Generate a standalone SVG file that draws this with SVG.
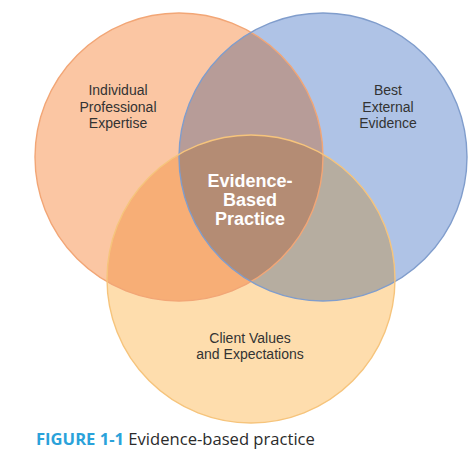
<svg xmlns="http://www.w3.org/2000/svg" width="474" height="470" viewBox="0 0 474 470">
<style>
.lbl{font-family:"Liberation Sans",Arial,sans-serif;font-size:14px;fill:#333333;text-anchor:middle}
.ctr{font-family:"Liberation Sans",Arial,sans-serif;font-size:18px;font-weight:bold;fill:#ffffff;text-anchor:middle}
.cap{font-family:"Open Sans",sans-serif;font-size:16.6px;fill:#2b2b2b}
.capb{fill:#2aa2da;font-weight:bold}
.ring{fill:none;stroke-width:1.4}
</style>
<defs>
<clipPath id="cL"><circle cx="179" cy="157" r="144"/></clipPath>
<clipPath id="cR"><circle cx="323" cy="157" r="144"/></clipPath>
</defs>
<rect width="474" height="470" fill="#ffffff"/>
<g id="fills">
<circle cx="179" cy="157" r="144" fill="#fbc6a3"/>
<circle cx="323" cy="157" r="144" fill="#afc3e6"/>
<circle cx="251" cy="279" r="144" fill="#feddad"/>
</g>
<g id="overlaps">
<circle cx="323" cy="157" r="144" fill="#b79c98" clip-path="url(#cL)"/>
<circle cx="251" cy="279" r="144" fill="#f7ae76" clip-path="url(#cL)"/>
<circle cx="251" cy="279" r="144" fill="#b6ada0" clip-path="url(#cR)"/>
<g clip-path="url(#cR)"><circle cx="251" cy="279" r="144" fill="#b48c74" clip-path="url(#cL)"/></g>
</g>
<g id="expertise">
<circle class="ring" cx="179" cy="157" r="144" stroke="#f2a676"/>
<text class="lbl" x="118" y="95">Individual</text>
<text class="lbl" x="118" y="112">Professional</text>
<text class="lbl" x="118" y="128">Expertise</text>
</g>
<g id="external">
<circle class="ring" cx="323" cy="157" r="144" stroke="#809dcc"/>
<text class="lbl" x="388" y="95">Best</text>
<text class="lbl" x="388" y="112">External</text>
<text class="lbl" x="388" y="128">Evidence</text>
</g>
<g id="client">
<circle class="ring" cx="251" cy="279" r="144" stroke="#f6c47c"/>
<text class="lbl" x="250" y="343">Client Values</text>
<text class="lbl" x="250" y="359">and Expectations</text>
</g>
<g id="ebp">
<text class="ctr" x="250" y="187">Evidence-</text>
<text class="ctr" x="250" y="206">Based</text>
<text class="ctr" x="250" y="225">Practice</text>
</g>
<text class="cap" x="36" y="445"><tspan class="capb">FIGURE 1-1</tspan> Evidence-based practice</text>
</svg>
